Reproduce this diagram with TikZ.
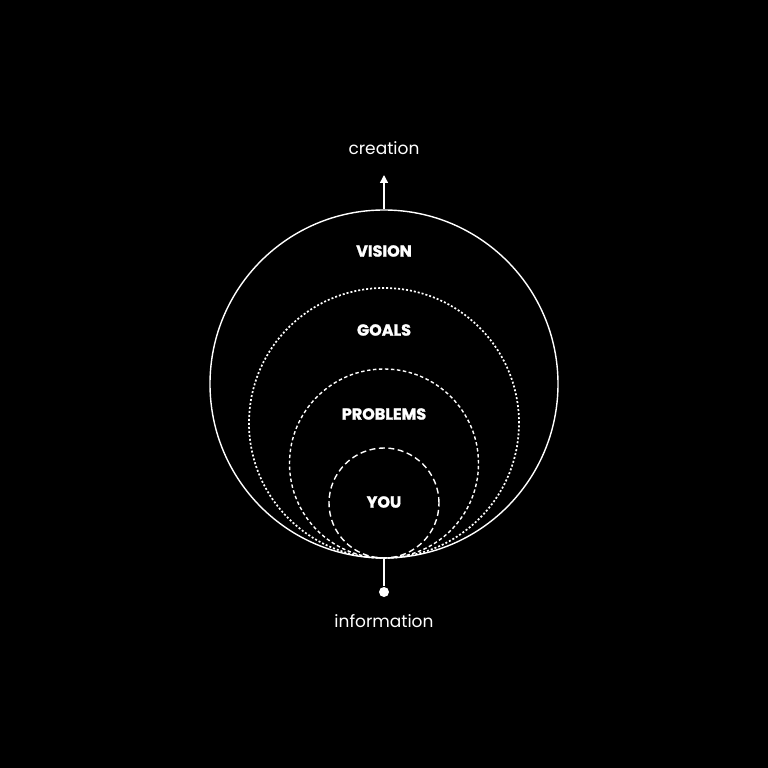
\documentclass[tikz,border=0pt]{standalone}
\usepackage{fontspec}
\usetikzlibrary{arrows.meta}
\setmainfont{Poppins}
\newfontfamily\heavy[BoldFeatures={FakeBold=1.5}]{Poppins}
\begin{document}
\begin{tikzpicture}[x=1pt, y=1pt, line width=1.4pt, white,
  every node/.style={inner sep=0pt},
  ring/.style={draw, circle, minimum size=#1},
  word/.style={font=\fontsize{16}{16}\heavy\bfseries},
  caption/.style={font=\fontsize{17}{17}\selectfont}]
\fill[black] (-384,-384) rectangle (384,384);
\useasboundingbox (-384,-384) rectangle (384,384);
\node[ring=348pt] (C0) at (0,0) {};
\node[ring=270pt, line width=1.7pt, dash pattern=on 2pt off 2pt] (C1) at (0,-39) {};
\node[ring=189pt, dash pattern=on 3.5pt off 2.5pt] (C2) at (0,-79.5) {};
\node[ring=110pt, dash pattern=on 6pt off 3.5pt] (C3) at (0,-119) {};

\node[word] (L0) at (0,133) {VISION};
\node[word] (L1) at (0,54) {GOALS};
\node[word] (L2) at (0,-30) {PROBLEMS};
\node[word] (L3) at (0,-118) {YOU};

\coordinate (T0) at (0,209);
\node[fill=white, circle, minimum size=10pt] (B0) at (0,-208) {};
\node[caption] (K0) at (0,236) {creation};
\node[caption] (K1) at (0,-237) {information};

\draw[-{Triangle[length=8pt, width=8pt]}] (C0.north) -- (T0);
\draw (C0.south) -- (B0);
\end{tikzpicture}
\end{document}
